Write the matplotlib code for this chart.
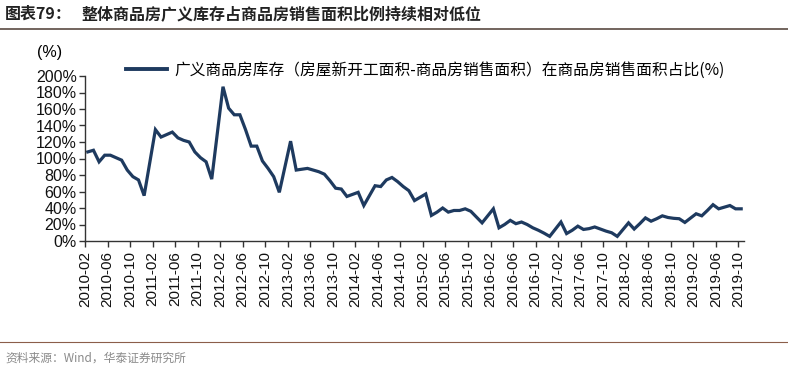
import matplotlib.pyplot as plt
from matplotlib.lines import Line2D

plt.rcParams['font.family'] = ['Noto Sans CJK SC', 'DejaVu Sans']

# monthly values (%), Feb-Dec each year (no January release)
months = [2, 3, 4, 5, 6, 7, 8, 9, 10, 11, 12]
v2010 = [108, 110, 96, 104, 104, 101, 98, 86, 78, 74, 55]
v2011 = [135, 126, 129, 132, 125, 122, 120, 108, 101, 96, 75]
v2012 = [187, 161, 153, 153, 135, 115, 115, 97, 88, 78, 59]
v2013 = [121, 86, 87, 88, 86, 84, 81, 73, 64, 63, 54]
v2014 = [59, 43, 55, 67, 66, 74, 77, 72, 66, 61, 49]
v2015 = [57, 31, 35, 40, 35, 37, 37, 39, 36, 29, 22]
v2016 = [39, 16, 20, 25, 21, 23, 20, 16, 13, 9.5, 5.6]
v2017 = [23, 9, 13, 18, 14, 15, 17, 14.5, 12, 10, 5.6]
v2018 = [22, 14.5, 21, 28, 24, 27, 30.5, 28.5, 27.5, 27, 22.5]
v2019 = [33, 30.5, 37, 44, 39, 41, 43, 39, 39]

yearly = {2010: v2010, 2011: v2011, 2012: v2012, 2013: v2013, 2014: v2014,
          2015: v2015, 2016: v2016, 2017: v2017, 2018: v2018, 2019: v2019}

series_name = '广义商品房库存（房屋新开工面积-商品房销售面积）在商品房销售面积占比(%)'
title_no = '图表79：'
title_text = '整体商品房广义库存占商品房销售面积比例持续相对低位'
source_text = '资料来源：Wind，华泰证券研究所'

# month index from 2010-02, points sit between tick marks (Excel date axis)
xs, ys = [], []
for yr, vals in yearly.items():
    for mo, v in zip(months, vals):
        xs.append((yr - 2010) * 12 + (mo - 2) + 0.5)
        ys.append(v)

tick_pos = list(range(0, 117, 4))
tick_lab = [f"{2010 + (t + 1) // 12}-{(t + 1) % 12 + 1:02d}" for t in tick_pos]

W, H = 788, 370
fig = plt.figure(figsize=(W / 100, H / 100), dpi=100)
ax = fig.add_axes([85 / W, 1 - 241 / H, (744 - 85) / W, (241 - 76) / H])

line_color = '#1e3a5f'
ax.plot(xs, ys, color=line_color, linewidth=2.3, solid_joinstyle='miter')

ax.set_xlim(0, 117)
ax.set_ylim(0, 200)
ax.set_yticks(range(0, 201, 20))
ax.set_yticklabels([f"{v}%" for v in range(0, 201, 20)], family='Liberation Sans', fontsize=11.5)
ax.set_xticks(tick_pos)
ax.set_xticklabels(tick_lab, rotation=90, family='Liberation Sans', fontsize=11)

for s in ['top', 'right']:
    ax.spines[s].set_visible(False)
for s in ['left', 'bottom']:
    ax.spines[s].set_color('#333333')
    ax.spines[s].set_linewidth(1)
ax.tick_params(axis='both', direction='out', length=4, width=1, color='#333333', labelcolor='#111111')
ax.tick_params(axis='x', pad=3)
ax.tick_params(axis='y', pad=2)

# legend
handle = Line2D([], [], color=line_color, linewidth=2.8)
fig.legend([handle], [series_name], loc='center left', bbox_to_anchor=(118 / W, 1 - 70 / H),
           frameon=False, fontsize=11.3, handlelength=2.6, handletextpad=0.5, borderpad=0)

fig.text(50 / W, 1 - 53 / H, '(%)', family='Liberation Sans', fontsize=11.5, ha='center', va='center')

# header and footer
fig.text(5 / W, 1 - 14 / H, title_no, fontsize=11.5, weight='bold', color='#222222', va='center')
fig.text(82 / W, 1 - 14 / H, title_text, fontsize=11.5, weight='bold', color='#222222', va='center')
fig.add_artist(Line2D([0, 1], [1 - 29 / H, 1 - 29 / H], color='#5a4a42', linewidth=1.2))
fig.add_artist(Line2D([0, 1], [1 - 342 / H, 1 - 342 / H], color='#8b5e4a', linewidth=0.8))
fig.text(5 / W, 1 - 358 / H, source_text, fontsize=8.5, color='#8a8a8a', va='center')

fig.savefig('out.png', dpi=100)
